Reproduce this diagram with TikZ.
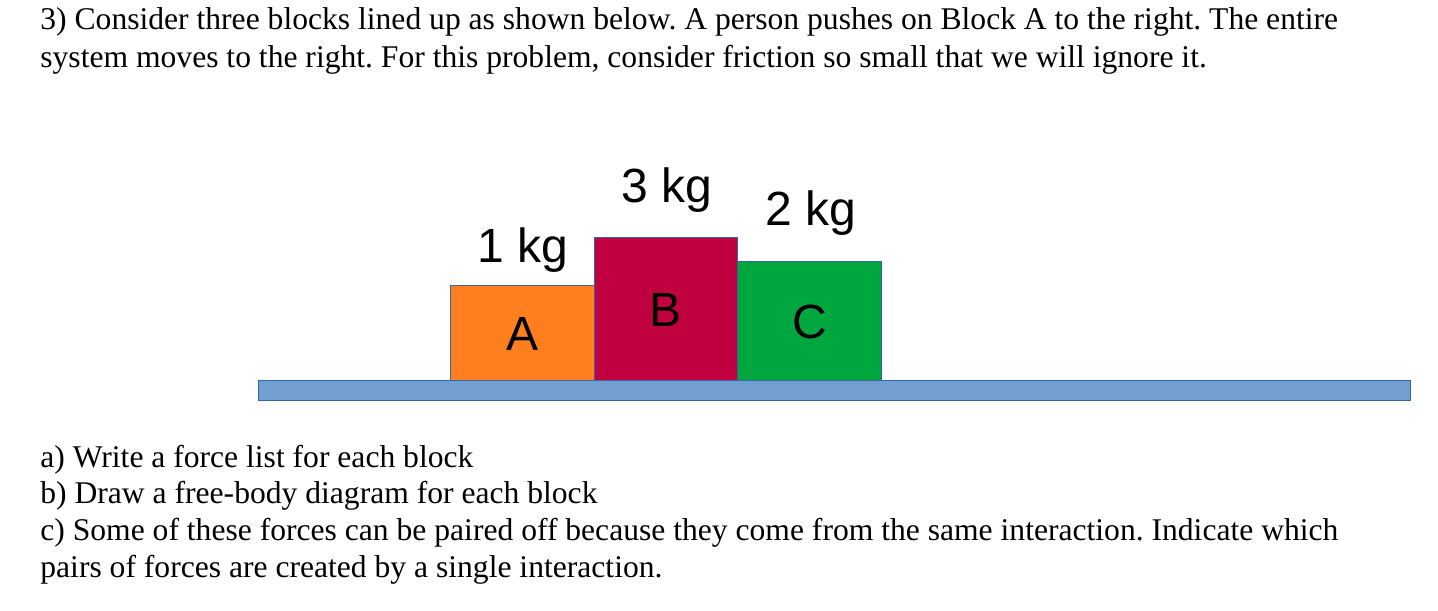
\documentclass[tikz,border=0pt]{standalone}
\usepackage{fontspec}
\setmainfont{Liberation Serif}
\newfontfamily\lsans{Liberation Sans}
\definecolor{floorc}{HTML}{729FCF}
\definecolor{acol}{HTML}{FF7F1E}
\definecolor{bcol}{HTML}{C0003F}
\definecolor{ccol}{HTML}{00A63E}
\definecolor{edgec}{HTML}{3465A4}
\tikzset{
 txt/.style={anchor=base west,inner sep=0pt,font=\frenchspacing\fontsize{15.8}{18}\selectfont},
 blk/.style={draw=edgec,line width=0.5pt},
 lab/.style={inner sep=0pt,font=\lsans\fontsize{24}{26}\selectfont}
}
\begin{document}
\begin{tikzpicture}[x=0.5pt,y=-0.5pt]
\useasboundingbox (0,0) rectangle (1438,610);
\node[txt] (t1) at (40,30) {3) Consider three blocks lined up as shown below. A person pushes on Block A to the right. The entire};
\node[txt] (t2) at (40,68) {system moves to the right. For this problem, consider friction so small that we will ignore it.};
\filldraw[blk,fill=floorc] (258,380) rectangle (1410,400);
\filldraw[blk,fill=acol] (450,285) rectangle (594,380);
\filldraw[blk,fill=bcol] (594,237) rectangle (737,380);
\filldraw[blk,fill=ccol] (737,261) rectangle (881,380);
\node[lab] (la) at (523,250) {1 kg};
\node[lab] (lb) at (667,190) {3 kg};
\node[lab] (lc) at (811,213) {2 kg};
\node[lab] (a) at (522,334) {A};
\node[lab] (b) at (665,310) {B};
\node[lab] (c) at (810,322) {C};
\node[txt] (q1) at (40,467) {a) Write a force list for each block};
\node[txt] (q2) at (40,503) {b) Draw a free-body diagram for each block};
\node[txt] (q3) at (40,540) {c) Some of these forces can be paired off because they come from the same interaction. Indicate which};
\node[txt] (q4) at (40,577) {pairs of forces are created by a single interaction.};
\end{tikzpicture}
\end{document}
